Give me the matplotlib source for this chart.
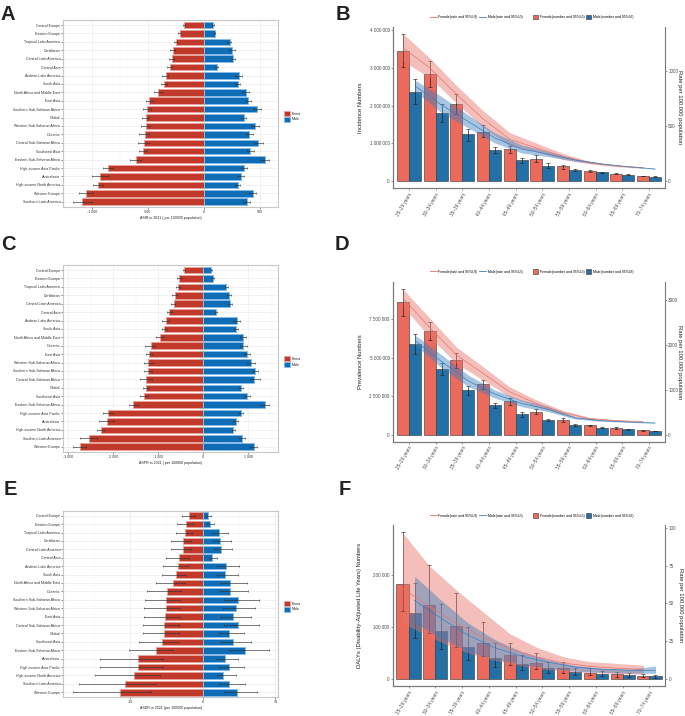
import numpy as np
import matplotlib
matplotlib.use("Agg")
import matplotlib.pyplot as plt
from matplotlib.lines import Line2D
from matplotlib.patches import Patch, Rectangle
from matplotlib.transforms import Bbox, TransformedBbox
from matplotlib.ticker import FuncFormatter, MultipleLocator, FixedLocator

plt.rcParams['font.family'] = ['Liberation Sans', 'DejaVu Sans']

W, H = 685, 716

# ================= data: regional pyramids (A, C, E) =================
regions_a = ["Central Europe", "Eastern Europe", "Tropical Latin America", "Caribbean",
             "Central Latin America", "Central Asia", "Andean Latin America", "South Asia",
             "North Africa and Middle East", "East Asia", "Southern Sub-Saharan Africa", "Global",
             "Western Sub-Saharan Africa", "Oceania", "Central Sub-Saharan Africa", "Southeast Asia",
             "Eastern Sub-Saharan Africa", "High-income Asia Pacific", "Australasia",
             "High-income North America", "Western Europe", "Southern Latin America"]
asir_f = [-175, -214, -252, -276, -288, -300, -341, -353, -409, -487, -504, -516,
          -516, -528, -534, -543, -608, -852, -929, -941, -1053, -1083]
asir_f_lo = [-187, -231, -270, -300, -309, -332, -374, -380, -445, -516, -540, -552,
             -558, -576, -585, -576, -659, -896, -997, -985, -1113, -1163]
asir_f_hi = [-169, -211, -243, -258, -270, -285, -318, -332, -374, -457, -475, -487,
             -484, -487, -487, -510, -564, -813, -858, -896, -991, -1000]
asir_m = [77, 95, 231, 249, 261, 116, 309, 303, 371, 395, 475, 353,
          454, 404, 481, 412, 543, 359, 329, 306, 436, 383]
asir_m_lo = [68, 86, 208, 226, 240, 101, 279, 279, 341, 374, 439, 326,
             418, 374, 445, 383, 499, 326, 297, 273, 404, 347]
asir_m_hi = [86, 101, 243, 273, 276, 128, 338, 320, 401, 415, 504, 374,
             487, 439, 525, 442, 582, 383, 356, 320, 463, 409]

regions_c = ["Central Europe", "Eastern Europe", "Tropical Latin America", "Caribbean",
             "Central Latin America", "Central Asia", "Andean Latin America", "South Asia",
             "North Africa and Middle East", "Oceania", "East Asia", "Western Sub-Saharan Africa",
             "Southern Sub-Saharan Africa", "Central Sub-Saharan Africa", "Global", "Southeast Asia",
             "Eastern Sub-Saharan Africa", "High-income Asia Pacific", "Australasia",
             "High-income North America", "Southern Latin America", "Western Europe"]
aspr_f = [-422, -533, -570, -637, -659, -756, -830, -867, -963, -1170, -1215, -1230,
          -1230, -1274, -1274, -1319, -1556, -2119, -2141, -2281, -2541, -2748]
aspr_f_lo = [-452, -578, -607, -696, -711, -815, -911, -919, -1052, -1289, -1274, -1319,
             -1319, -1400, -1333, -1400, -1652, -2222, -2311, -2370, -2741, -2889]
aspr_f_hi = [-400, -489, -519, -593, -622, -704, -763, -815, -889, -1074, -1148, -1126,
             -1141, -1148, -1207, -1230, -1452, -2015, -1985, -2200, -2370, -2607]
aspr_m = [178, 222, 511, 563, 585, 281, 741, 726, 889, 889, 970, 1052,
          1148, 1126, 837, 970, 1370, 837, 719, 667, 852, 1126]
aspr_m_lo = [163, 200, 489, 519, 541, 259, 667, 674, 815, 815, 911, 963,
             1074, 1037, 800, 911, 1259, 793, 667, 630, 785, 1037]
aspr_m_hi = [193, 244, 541, 607, 630, 311, 807, 763, 948, 970, 1030, 1141,
             1222, 1252, 889, 1037, 1467, 889, 770, 704, 933, 1185]

regions_e = ["Central Europe", "Eastern Europe", "Tropical Latin America", "Caribbean",
             "Central Latin America", "Central Asia", "Andean Latin America", "South Asia",
             "North Africa and Middle East", "Oceania", "Southern Sub-Saharan Africa",
             "Western Sub-Saharan Africa", "East Asia", "Central Sub-Saharan Africa", "Global",
             "Southeast Asia", "Eastern Sub-Saharan Africa", "Australasia",
             "High-income Asia Pacific", "High-income North America", "Southern Latin America",
             "Western Europe"]
asdr_f = [-1.83, -2.29, -2.43, -2.71, -2.75, -3.21, -3.44, -3.62, -4.04, -4.91, -5.05,
          -5.09, -5.14, -5.28, -5.32, -5.60, -6.47, -8.90, -8.90, -9.40, -10.64, -11.42]
asdr_f_lo = [-2.89, -3.49, -3.72, -4.31, -4.31, -5.00, -5.50, -5.64, -6.38, -7.71, -7.98,
             -8.03, -8.03, -8.26, -8.26, -8.72, -10.09, -14.08, -14.08, -14.77, -16.97, -17.80]
asdr_f_hi = [-1.06, -1.38, -1.42, -1.61, -1.65, -1.88, -2.06, -2.25, -2.43, -3.03, -3.12,
             -3.12, -3.12, -3.26, -3.26, -3.44, -4.04, -5.50, -5.50, -5.87, -6.42, -7.11]
asdr_m = [0.78, 1.01, 2.20, 2.43, 2.52, 1.24, 3.21, 3.07, 3.81, 3.81, 4.91,
          4.59, 4.17, 4.82, 3.62, 4.17, 5.83, 3.07, 3.62, 2.84, 3.62, 4.72]
asdr_m_lo = [0.46, 0.64, 1.33, 1.47, 1.56, 0.83, 1.93, 1.93, 2.34, 2.39, 2.98,
             2.84, 2.57, 2.98, 2.29, 2.57, 3.67, 1.93, 2.29, 1.93, 2.20, 2.94]
asdr_m_hi = [1.19, 1.61, 3.44, 3.90, 4.08, 2.02, 5.05, 4.86, 6.06, 6.19, 7.80,
             7.20, 6.61, 7.71, 5.73, 6.61, 9.13, 4.82, 5.69, 4.54, 5.83, 7.43]

# ================= data: age groups (B, D, F) =================
ages = ["25–29 years", "30–34 years", "35–39 years", "40–44 years", "45–49 years",
        "50–54 years", "55–59 years", "60–64 years", "65–69 years", "70–74 years"]

inc_f = [3.44e6, 2.83e6, 2.04e6, 1.31e6, 0.84e6, 0.58e6, 0.39e6, 0.26e6, 0.195e6, 0.13e6]
inc_f_lo = [3.03e6, 2.50e6, 1.79e6, 1.17e6, 0.74e6, 0.51e6, 0.33e6, 0.24e6, 0.18e6, 0.12e6]
inc_f_hi = [3.91e6, 3.18e6, 2.30e6, 1.48e6, 0.93e6, 0.68e6, 0.43e6, 0.28e6, 0.21e6, 0.14e6]
inc_m = [2.35e6, 1.80e6, 1.24e6, 0.81e6, 0.56e6, 0.41e6, 0.29e6, 0.23e6, 0.17e6, 0.11e6]
inc_m_lo = [2.04e6, 1.57e6, 1.06e6, 0.73e6, 0.49e6, 0.35e6, 0.26e6, 0.21e6, 0.16e6, 0.10e6]
inc_m_hi = [2.70e6, 2.03e6, 1.39e6, 0.90e6, 0.62e6, 0.47e6, 0.32e6, 0.25e6, 0.18e6, 0.12e6]
inc_rate_f = [1210, 1030, 790, 565, 380, 300, 225, 165, 136, 121]
inc_rate_f_lo = [1090, 940, 710, 490, 320, 265, 195, 155, 130, 116]
inc_rate_f_hi = [1340, 1120, 870, 640, 440, 345, 250, 178, 142, 126]
inc_rate_m = [865, 690, 540, 390, 290, 244, 191, 155, 130, 109]
inc_rate_m_lo = [812, 620, 482, 345, 255, 221, 180, 150, 127, 106]
inc_rate_m_hi = [918, 767, 600, 436, 327, 267, 202, 160, 133, 112]

prev_f = [8.57e6, 6.75e6, 4.82e6, 3.28e6, 2.19e6, 1.51e6, 0.97e6, 0.62e6, 0.46e6, 0.30e6]
prev_f_lo = [7.67e6, 6.17e6, 4.33e6, 2.96e6, 1.93e6, 1.36e6, 0.85e6, 0.57e6, 0.42e6, 0.28e6]
prev_f_hi = [9.43e6, 7.29e6, 5.31e6, 3.58e6, 2.42e6, 1.66e6, 1.08e6, 0.67e6, 0.50e6, 0.32e6]
prev_m = [5.87e6, 4.29e6, 2.89e6, 1.93e6, 1.33e6, 0.97e6, 0.65e6, 0.47e6, 0.37e6, 0.25e6]
prev_m_lo = [5.25e6, 3.90e6, 2.61e6, 1.76e6, 1.18e6, 0.88e6, 0.60e6, 0.44e6, 0.35e6, 0.24e6]
prev_m_hi = [6.54e6, 4.67e6, 3.17e6, 2.10e6, 1.50e6, 1.06e6, 0.71e6, 0.50e6, 0.39e6, 0.26e6]
prev_rate_f = [3040, 2390, 1780, 1370, 960, 700, 500, 365, 320, 296]
prev_rate_f_lo = [2850, 2180, 1590, 1220, 850, 630, 455, 340, 305, 285]
prev_rate_f_hi = [3240, 2600, 1960, 1520, 1070, 780, 545, 390, 335, 306]
prev_rate_m = [2100, 1630, 1200, 910, 700, 570, 380, 318, 289, 267]
prev_rate_m_lo = [2000, 1490, 1075, 820, 630, 518, 355, 305, 280, 260]
prev_rate_m_hi = [2220, 1780, 1330, 1000, 778, 630, 407, 330, 298, 274]

daly_f = [183e3, 142e3, 102e3, 69e3, 46e3, 31e3, 20e3, 12e3, 8.4e3, 5.8e3]
daly_f_lo = [131e3, 89e3, 62e3, 43e3, 27e3, 18e3, 12e3, 7e3, 4e3, 2.6e3]
daly_f_hi = [284e3, 220e3, 166e3, 109e3, 70e3, 49e3, 33e3, 20e3, 14e3, 10e3]
daly_m = [127e3, 92e3, 61e3, 41e3, 28e3, 20e3, 14e3, 9e3, 6.5e3, 4.5e3]
daly_m_lo = [78e3, 57e3, 36e3, 22e3, 16e3, 12e3, 8e3, 5e3, 3e3, 2e3]
daly_m_hi = [184e3, 145e3, 100e3, 69e3, 46e3, 33e3, 21e3, 15e3, 12e3, 8e3]
daly_rate_f = [60, 48, 37, 27.5, 20, 14.5, 10.5, 8.2, 7, 6.2]
daly_rate_f_lo = [37, 28, 20, 14, 10, 7, 5, 4, 3.5, 3]
daly_rate_f_hi = [97, 75, 59, 44.5, 30, 21, 14.6, 11.3, 10.2, 9]
daly_rate_m = [52, 40, 29, 20.5, 15, 11, 7.8, 6.3, 5.7, 5.5]
daly_rate_m_lo = [37, 27, 18, 13, 9.5, 7, 5, 4.2, 3.8, 3.5]
daly_rate_m_hi = [68, 52, 37, 26, 18, 12.5, 8.7, 7, 6.2, 8.5]

# ================= colours =================
PYR_F, PYR_F_EDGE = "#C0392B", "#E8A39A"
PYR_M, PYR_M_EDGE = "#0F6DB5", "#86BDE8"
BAR_F, BAR_M = "#EC6A5C", "#2370A7"
RIB_F, RIB_M = "#E8736A", "#3A7FBE"
TXT = "#4D4D4D"


def rect(l, t, r, b):
    return [l / W, 1 - b / H, (r - l) / W, (b - t) / H]


def spaced(v, pos=None):
    return f"{v:,.0f}".replace(",", " ")


fig = plt.figure(figsize=(W / 100, H / 100), dpi=100)
clip_left = TransformedBbox(Bbox([[0, 0], [300 / W, 1]]), fig.transFigure)


def pyramid(box, regions, f, f_lo, f_hi, m, m_lo, m_hi, xlim, ticks, labels, minor, xlabel, leg_y):
    ax = fig.add_axes(rect(*box))
    y = np.arange(len(regions))
    f, m = np.array(f), np.array(m)
    ax.barh(y, f, height=0.78, color=PYR_F, edgecolor=PYR_F_EDGE, linewidth=0.7, zorder=2)
    ax.barh(y, m, height=0.78, color=PYR_M, edgecolor=PYR_M_EDGE, linewidth=0.7, zorder=2)
    for v, lo, hi in ((f, f_lo, f_hi), (m, m_lo, m_hi)):
        err = [np.clip(v - np.array(lo), 0, None), np.clip(np.array(hi) - v, 0, None)]
        ax.errorbar(v, y, xerr=err, fmt="none", ecolor="#333333", elinewidth=0.45,
                    capsize=1.0, capthick=0.4, zorder=3)
    ax.set_xlim(*xlim)
    ax.set_ylim(len(regions) - 0.4, -0.6)
    ax.set_yticks(y)
    ax.set_yticklabels(regions)
    ax.xaxis.set_major_locator(FixedLocator(ticks))
    ax.set_xticklabels(labels)
    ax.xaxis.set_minor_locator(MultipleLocator(minor))
    ax.set_axisbelow(True)
    ax.grid(which="major", color="#EBEBEB", linewidth=0.5)
    ax.grid(which="minor", axis="x", color="#F4F4F4", linewidth=0.3)
    ax.tick_params(which="major", labelsize=2.6, length=1.2, width=0.4, colors="#333333", pad=1)
    ax.tick_params(which="minor", length=0)
    for s in ax.spines.values():
        s.set_color("#C8C8C8")
        s.set_linewidth(0.8)
    ax.set_xlabel(xlabel, fontsize=2.6, color="#222222", labelpad=1.5)
    # legend squares (text runs under the neighbour panel in the original)
    for i, (lab, c, ec) in enumerate((("Female", PYR_F, PYR_F_EDGE), ("Male", PYR_M, PYR_M_EDGE))):
        top = leg_y + i * 5.8
        fig.patches.append(Rectangle((284 / W, 1 - (top + 5.2) / H), 5.8 / W, 5.2 / H,
                                     transform=fig.transFigure, facecolor=c, edgecolor=ec,
                                     linewidth=0.6))
        t = fig.text(292 / W, 1 - (top + 2.7) / H, lab, fontsize=2.6, va="center", color="#222222")
        t.set_clip_on(True)
        t.set_clip_box(clip_left)
    return ax


def age_panel(box, nf, nf_lo, nf_hi, nm, nm_lo, nm_hi, rf, rf_lo, rf_hi, rm, rm_lo, rm_hi,
              ylim, yticks, ylim2, yticks2, ylabel, leg_y):
    ax = fig.add_axes(rect(*box))
    x = np.arange(len(ages))
    xf, xm = x - 0.225, x + 0.225
    nf, nm = np.array(nf), np.array(nm)
    ax.bar(xf, nf, width=0.45, color=BAR_F, edgecolor="#333333", linewidth=0.4, zorder=2)
    ax.bar(xm, nm, width=0.45, color=BAR_M, edgecolor="#333333", linewidth=0.4, zorder=2)
    for xx, v, lo, hi in ((xf, nf, nf_lo, nf_hi), (xm, nm, nm_lo, nm_hi)):
        err = [np.clip(v - np.array(lo), 0, None), np.clip(np.array(hi) - v, 0, None)]
        ax.errorbar(xx, v, yerr=err, fmt="none", ecolor="#222222", elinewidth=0.5,
                    capsize=1.1, capthick=0.45, zorder=3)
    ax.set_xlim(-0.58, len(ages) - 0.42)
    ax.set_ylim(*ylim)
    ax.set_xticks(x)
    ax.set_xticklabels(ages, rotation=60, ha="right", rotation_mode="anchor")
    ax.set_yticks(yticks)
    ax.yaxis.set_major_formatter(FuncFormatter(spaced))
    ax.tick_params(labelsize=3.3, length=1.5, width=0.4, colors=TXT, pad=1.2)
    ax.set_ylabel(ylabel, fontsize=4.2, color="#222222")
    ax.yaxis.set_label_coords(-0.113, 0.5)

    ax2 = ax.twinx()
    ax2.fill_between(xf, rf_lo, rf_hi, color=RIB_F, alpha=0.45, linewidth=0)
    ax2.plot(xf, rf, color=RIB_F, linewidth=0.5)
    ax2.fill_between(xm, rm_lo, rm_hi, color=RIB_M, alpha=0.45, linewidth=0)
    ax2.plot(xm, rm, color=RIB_M, linewidth=0.5)
    ax2.set_ylim(*ylim2)
    ax2.set_yticks(yticks2)
    ax2.tick_params(labelsize=3.3, length=1.5, width=0.4, colors=TXT, pad=1.2)
    ax2.set_ylabel("Rate per 100,000 population", fontsize=4.2, color="#222222", rotation=270)
    ax2.yaxis.set_label_coords(1.065, 0.5)

    for a in (ax, ax2):
        a.spines["top"].set_visible(False)
        for s in ("left", "bottom", "right"):
            a.spines[s].set_color("#7A7A7A")
            a.spines[s].set_linewidth(0.8)
    ax.spines["right"].set_visible(False)

    line_h = [Line2D([], [], color=RIB_F, linewidth=0.6), Line2D([], [], color=RIB_M, linewidth=0.6)]
    bar_h = [Patch(facecolor=BAR_F, edgecolor="#333333", linewidth=0.4),
             Patch(facecolor=BAR_M, edgecolor="#333333", linewidth=0.4)]
    fig.legend(line_h, ["Female(rate and 95%UI)", "Male(rate and 95%UI)"], loc="center",
               bbox_to_anchor=(476 / W, 1 - leg_y / H), ncol=2, fontsize=2.5, frameon=False,
               handlelength=2.0, handletextpad=0.5, columnspacing=0.6)
    fig.legend(bar_h, ["Female(number and 95%UI)", "Male(number and 95%UI)"], loc="center",
               bbox_to_anchor=(583 / W, 1 - leg_y / H), ncol=2, fontsize=2.5, frameon=False,
               handlelength=1.6, handleheight=1.6, handletextpad=0.4, columnspacing=0.4)
    return ax


# ================= left column =================
pyramid((63.3, 20, 278.3, 206.7), regions_a, asir_f, asir_f_lo, asir_f_hi, asir_m, asir_m_lo,
        asir_m_hi, (-1253, 662), [-1000, -500, 0, 500], ["-1 000", "-500", "0", "500"], 250,
        "ASIR in 2021 ( per 100000 population)", 111)
pyramid((63.3, 265, 278.3, 451.7), regions_c, aspr_f, aspr_f_lo, aspr_f_hi, aspr_m, aspr_m_lo,
        aspr_m_hi, (-3111, 1667), [-3000, -2000, -1000, 0, 1000],
        ["-3 000", "-2 000", "-1 000", "0", "1 000"], 500,
        "ASPR in 2021 ( per 100000 population)", 356)
pyramid((63.3, 510.7, 278.3, 697.3), regions_e, asdr_f, asdr_f_lo, asdr_f_hi, asdr_m, asdr_m_lo,
        asdr_m_hi, (-19.2, 10.4), [-10, 0, 10], ["-10", "0", "10"], 5,
        "ASDR in 2021 (per 100000 population)", 601)

# ================= right column =================
age_panel((393.5, 27, 664.5, 188), inc_f, inc_f_lo, inc_f_hi, inc_m, inc_m_lo, inc_m_hi,
          inc_rate_f, inc_rate_f_lo, inc_rate_f_hi, inc_rate_m, inc_rate_m_lo, inc_rate_m_hi,
          (-0.186e6, 4.085e6), [0, 1e6, 2e6, 3e6, 4e6], (-64, 1400), [0, 500, 1000],
          "Incidence Numbers", 17)
age_panel((393.5, 281.7, 664.5, 441.7), prev_f, prev_f_lo, prev_f_hi, prev_m, prev_m_lo, prev_m_hi,
          prev_rate_f, prev_rate_f_lo, prev_rate_f_hi, prev_rate_m, prev_rate_m_lo, prev_rate_m_hi,
          (-0.43e6, 9.91e6), [0, 2.5e6, 5e6, 7.5e6], (-149, 3407), [0, 1000, 2000, 3000],
          "Prevalence Numbers", 271.5)
age_panel((393, 525, 665, 686), daly_f, daly_f_lo, daly_f_hi, daly_m, daly_m_lo, daly_m_hi,
          daly_rate_f, daly_rate_f_lo, daly_rate_f_hi, daly_rate_m, daly_rate_m_lo, daly_rate_m_hi,
          (-14e3, 297e3), [0, 100e3, 200e3], (-4.8, 102), [0, 25, 50, 75, 100],
          "DALYs (Disability-Adjusted Life Years) Numbers", 515.5)

# ================= panel letters =================
for letter, lx, base in (("A", 0.5, 19.5), ("B", 336, 19.5), ("C", 1.5, 250),
                         ("D", 335, 250), ("E", 3.5, 495), ("F", 339, 495)):
    fig.text(lx / W, 1 - base / H, letter, fontsize=14.5, fontweight="bold",
             color="#222222", va="baseline", ha="left")

fig.savefig("out.png", dpi=100)
